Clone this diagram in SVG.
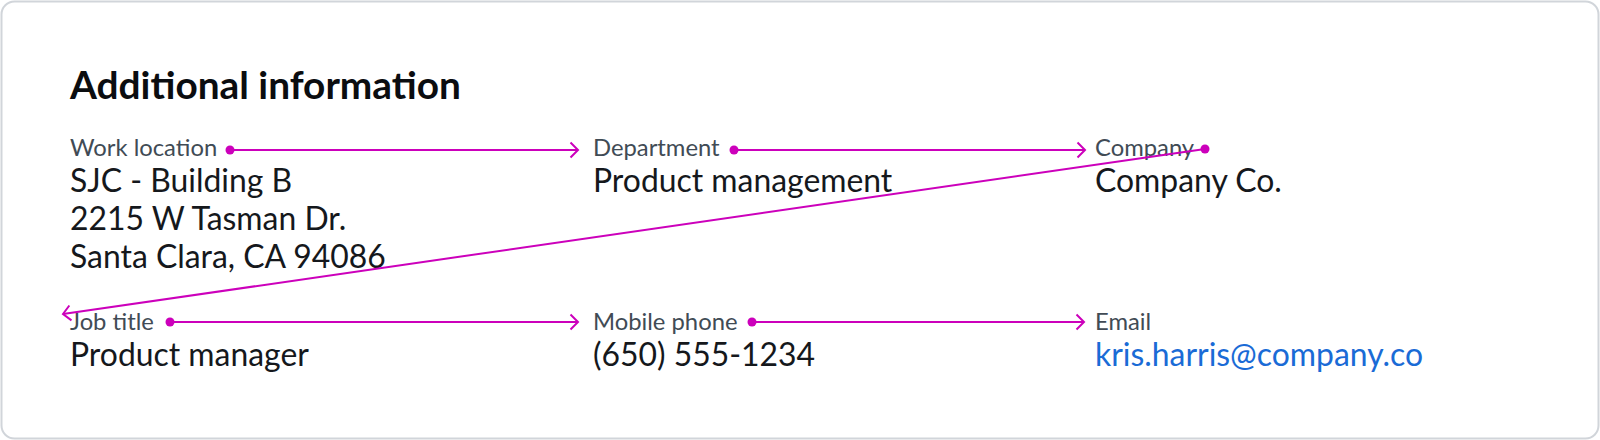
<svg xmlns="http://www.w3.org/2000/svg" width="1600" height="440" viewBox="0 0 1600 440">
  <style>
    .title { font-family: Lato, "Liberation Sans", sans-serif; font-weight: 700; font-size: 38.8px; fill: #0b0d10; }
    .label { font-family: Lato, "Liberation Sans", sans-serif; font-size: 23.8px; fill: #414b55; }
    .value { font-family: Lato, "Liberation Sans", sans-serif; font-size: 31.9px; fill: #15181c; }
    .link { fill: #1a6bd6; }
    .conn { stroke: #cc00bb; stroke-width: 2; fill: none; }
    .dot { fill: #cc00bb; }
  </style>
  <defs>
    <marker id="arrow" markerUnits="userSpaceOnUse" markerWidth="20" markerHeight="20" viewBox="-10 -10 20 20" refX="0" refY="0" orient="auto">
      <path d="M-7.5,-7.5 L0,0 L-7.5,7.5" fill="none" stroke="#cc00bb" stroke-width="2"/>
    </marker>
  </defs>
  <rect x="1.5" y="1.5" width="1597" height="437" rx="13" ry="13" fill="#ffffff" stroke="#d1d5da" stroke-width="2"/>
  <text class="title" x="70" y="99">Additional information</text>

  <g id="work-location">
    <text class="label" x="70" y="156">Work location</text>
    <text class="value" x="70" y="192">SJC - Building B</text>
    <text class="value" x="70" y="230">2215 W Tasman Dr.</text>
    <text class="value" x="70" y="268">Santa Clara, CA 94086</text>
  </g>
  <g id="department">
    <text class="label" x="593" y="156">Department</text>
    <text class="value" x="593" y="192">Product management</text>
  </g>
  <g id="company">
    <text class="label" x="1095" y="156">Company</text>
    <text class="value" x="1095" y="192">Company Co.</text>
  </g>
  <g id="job-title">
    <text class="label" x="70" y="330">Job title</text>
    <text class="value" x="70" y="366">Product manager</text>
  </g>
  <g id="mobile-phone">
    <text class="label" x="593" y="330">Mobile phone</text>
    <text class="value" x="593" y="366">(650) 555-1234</text>
  </g>
  <g id="email">
    <text class="label" x="1095" y="330">Email</text>
    <text class="value link" x="1095" y="366">kris.harris@company.co</text>
  </g>

  <g id="connectors">
    <line class="conn" x1="230" y1="150" x2="578" y2="150" marker-end="url(#arrow)"/>
    <circle class="dot" cx="230" cy="150" r="4.5"/>
    <line class="conn" x1="734" y1="150" x2="1085" y2="150" marker-end="url(#arrow)"/>
    <circle class="dot" cx="734" cy="150" r="4.5"/>
    <line class="conn" x1="1205" y1="149" x2="63" y2="314" marker-end="url(#arrow)"/>
    <circle class="dot" cx="1205" cy="149" r="4.5"/>
    <line class="conn" x1="170" y1="322" x2="578" y2="322" marker-end="url(#arrow)"/>
    <circle class="dot" cx="170" cy="322" r="4.5"/>
    <line class="conn" x1="752" y1="322" x2="1084" y2="322" marker-end="url(#arrow)"/>
    <circle class="dot" cx="752" cy="322" r="4.5"/>
  </g>
</svg>
